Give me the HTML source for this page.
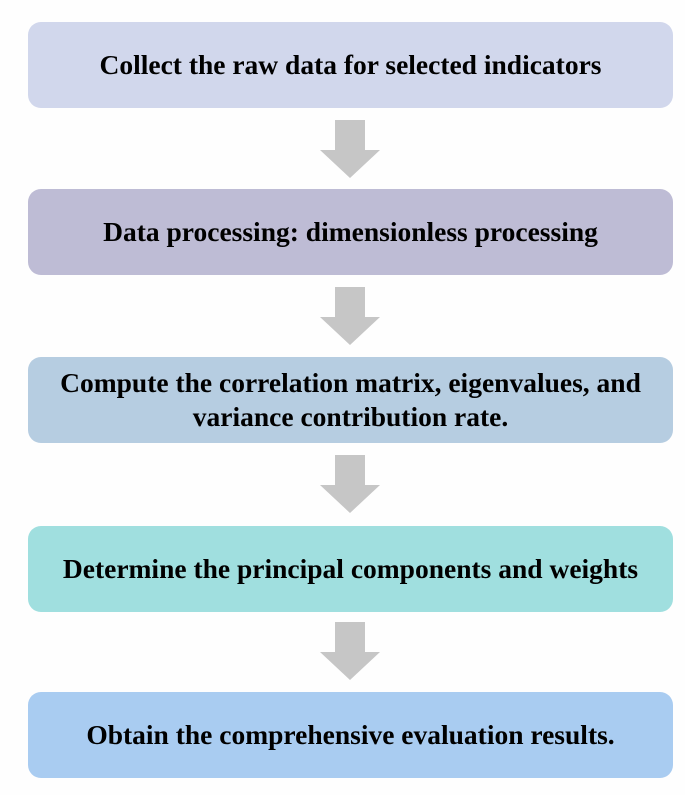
<!DOCTYPE html>
<html><head><style>
body{margin:0;background:#fefefe;width:685px;height:795px;position:relative;overflow:hidden;font-family:"Liberation Serif",serif;}
.b{position:absolute;left:28px;width:645px;height:86px;border-radius:13px;display:flex;align-items:center;justify-content:center;text-align:center;font-weight:bold;font-size:27.5px;line-height:34px;color:#000;white-space:nowrap;}
svg{position:absolute;left:0;top:0}
</style></head><body>
<div class="b" style="top:22px;background:#d1d7ec">Collect the raw data for selected indicators</div>
<div class="b" style="top:189px;background:#bebcd5">Data processing: dimensionless processing</div>
<div class="b" style="top:357px;background:#b6cde1">Compute the correlation matrix, eigenvalues, and<br>variance contribution rate.</div>
<div class="b" style="top:526px;background:#a0dfdf">Determine the principal components and weights</div>
<div class="b" style="top:692px;background:#a9ccf1">Obtain the comprehensive evaluation results.</div>
<svg width="685" height="795">
<g fill="#c6c6c6">
<polygon points="335,120 365,120 365,150 380,150 350,178 320,150 335,150"/>
<polygon points="335,287 365,287 365,317 380,317 350,345 320,317 335,317"/>
<polygon points="335,455 365,455 365,485 380,485 350,513 320,485 335,485"/>
<polygon points="335,622 365,622 365,652 380,652 350,680 320,652 335,652"/>
</g>
</svg>
</body></html>
